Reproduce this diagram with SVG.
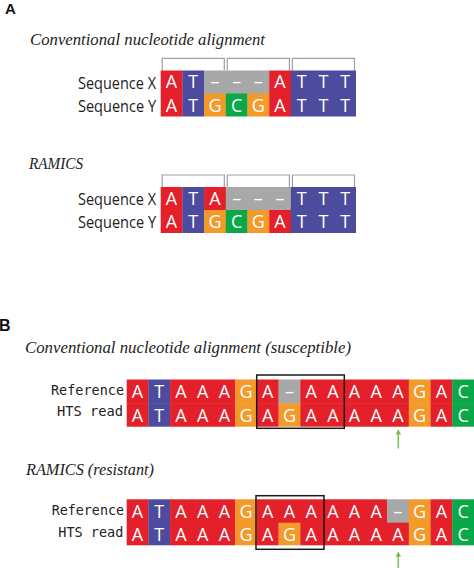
<svg xmlns="http://www.w3.org/2000/svg" width="474" height="568" viewBox="0 0 474 568">
<style>
.r{fill:#E4202A}.b{fill:#4C4B9E}.o{fill:#F39A2B}.g{fill:#0BA84A}.x{fill:#A8A8A8}
.n{font-family:"Open Sans","Liberation Sans",sans-serif;font-size:18px;fill:#fff;text-anchor:middle}
.lab{font-family:"Liberation Sans",Arial,sans-serif;font-weight:bold;fill:#111}
.ttl{font-family:"Liberation Serif","Times New Roman",serif;font-style:italic;fill:#222}
.seq{font-family:"Open Sans","Liberation Sans",sans-serif;font-size:16.5px;fill:#222;text-anchor:end}
.mono{font-family:"DejaVu Sans Mono","Liberation Mono",monospace;font-size:14px;fill:#222;text-anchor:end}
.br{fill:none;stroke:#A0A0A0;stroke-width:1.2}
.box{fill:none;stroke:#1a1a1a;stroke-width:1.5}
.arr{stroke:#7DBB5A;stroke-width:1.5;fill:none}
.ah{fill:#7DBB5A}
</style>
<g id="labels">
<text class="lab" x="5" y="14" font-size="15">A</text>
<text class="lab" x="-1" y="331" font-size="16">B</text>
<text class="ttl" x="30" y="45" font-size="16.5" textLength="235" lengthAdjust="spacingAndGlyphs">Conventional nucleotide alignment</text>
<text class="ttl" x="29" y="169" font-size="16.5" textLength="54" lengthAdjust="spacingAndGlyphs">RAMICS</text>
<text class="ttl" x="25" y="353" font-size="17" textLength="326" lengthAdjust="spacingAndGlyphs">Conventional nucleotide alignment (susceptible)</text>
<text class="ttl" x="26" y="475" font-size="17" textLength="128" lengthAdjust="spacingAndGlyphs">RAMICS (resistant)</text>
</g>

<g id="alignA1">
<path class="br" d="M162.2 70.5V58.3H224.3V70.5M227.3 70.5V58.3H289.4V70.5M292.4 70.5V58.3H354.5V70.5"/>
<text class="seq" x="156" y="89" textLength="78" lengthAdjust="spacingAndGlyphs">Sequence X</text>
<text class="seq" x="156" y="112" textLength="78" lengthAdjust="spacingAndGlyphs">Sequence Y</text>
<rect class="r" x="160.7" y="70.5" width="21.9" height="23.5"/>
<rect class="b" x="182.4" y="70.5" width="21.9" height="23.5"/>
<rect class="x" x="204.1" y="70.5" width="65.3" height="23.5"/>
<rect class="r" x="269.2" y="70.5" width="21.9" height="23.5"/>
<rect class="b" x="290.9" y="70.5" width="65.1" height="23.5"/>
<rect class="r" x="160.7" y="93.5" width="21.9" height="23"/>
<rect class="b" x="182.4" y="93.5" width="21.9" height="23"/>
<rect class="o" x="204.1" y="93.5" width="21.9" height="23"/>
<rect class="g" x="225.8" y="93.5" width="21.9" height="23"/>
<rect class="o" x="247.5" y="93.5" width="21.9" height="23"/>
<rect class="r" x="269.2" y="93.5" width="21.9" height="23"/>
<rect class="b" x="290.9" y="93.5" width="65.1" height="23"/>
<text class="n" y="88"><tspan x="171.55">A</tspan><tspan x="193.25">T</tspan><tspan x="214.95">–</tspan><tspan x="236.65">–</tspan><tspan x="258.35">–</tspan><tspan x="280.05">A</tspan><tspan x="301.75">T</tspan><tspan x="323.45">T</tspan><tspan x="345.15">T</tspan></text>
<text class="n" y="111.5"><tspan x="171.55">A</tspan><tspan x="193.25">T</tspan><tspan x="214.95">G</tspan><tspan x="236.65">C</tspan><tspan x="258.35">G</tspan><tspan x="280.05">A</tspan><tspan x="301.75">T</tspan><tspan x="323.45">T</tspan><tspan x="345.15">T</tspan></text>
</g>

<g id="alignA2">
<path class="br" d="M162.2 187V175H224.3V187M227.3 187V175H289.4V187M292.4 187V175H354.5V187"/>
<text class="seq" x="156" y="205" textLength="78" lengthAdjust="spacingAndGlyphs">Sequence X</text>
<text class="seq" x="156" y="228.3" textLength="78" lengthAdjust="spacingAndGlyphs">Sequence Y</text>
<rect class="r" x="160.7" y="187" width="21.9" height="23.5"/>
<rect class="b" x="182.4" y="187" width="21.9" height="23.5"/>
<rect class="r" x="204.1" y="187" width="21.9" height="23.5"/>
<rect class="x" x="225.8" y="187" width="65.3" height="23.5"/>
<rect class="b" x="290.9" y="187" width="65.1" height="23.5"/>
<rect class="r" x="160.7" y="210" width="21.9" height="23"/>
<rect class="b" x="182.4" y="210" width="21.9" height="23"/>
<rect class="o" x="204.1" y="210" width="21.9" height="23"/>
<rect class="g" x="225.8" y="210" width="21.9" height="23"/>
<rect class="o" x="247.5" y="210" width="21.9" height="23"/>
<rect class="r" x="269.2" y="210" width="21.9" height="23"/>
<rect class="b" x="290.9" y="210" width="65.1" height="23"/>
<text class="n" y="204.5"><tspan x="171.55">A</tspan><tspan x="193.25">T</tspan><tspan x="214.95">A</tspan><tspan x="236.65">–</tspan><tspan x="258.35">–</tspan><tspan x="280.05">–</tspan><tspan x="301.75">T</tspan><tspan x="323.45">T</tspan><tspan x="345.15">T</tspan></text>
<text class="n" y="228"><tspan x="171.55">A</tspan><tspan x="193.25">T</tspan><tspan x="214.95">G</tspan><tspan x="236.65">C</tspan><tspan x="258.35">G</tspan><tspan x="280.05">A</tspan><tspan x="301.75">T</tspan><tspan x="323.45">T</tspan><tspan x="345.15">T</tspan></text>
</g>

<g id="alignB1">
<text class="mono" x="124" y="395" textLength="73" lengthAdjust="spacingAndGlyphs">Reference</text>
<text class="mono" x="123" y="416" textLength="66" lengthAdjust="spacingAndGlyphs">HTS read</text>
<rect class="r" x="126.7" y="379.5" width="21.9" height="24.3"/>
<rect class="b" x="148.4" y="379.5" width="21.9" height="24.3"/>
<rect class="r" x="170.1" y="379.5" width="65.3" height="24.3"/>
<rect class="o" x="235.2" y="379.5" width="21.9" height="24.3"/>
<rect class="r" x="256.9" y="379.5" width="21.9" height="24.3"/>
<rect class="x" x="278.6" y="379.5" width="21.9" height="24.3"/>
<rect class="r" x="300.3" y="379.5" width="108.7" height="24.3"/>
<rect class="o" x="408.8" y="379.5" width="21.9" height="24.3"/>
<rect class="r" x="430.5" y="379.5" width="21.9" height="24.3"/>
<rect class="g" x="452.2" y="379.5" width="21.8" height="24.3"/>
<rect class="r" x="126.7" y="403.3" width="21.9" height="23.4"/>
<rect class="b" x="148.4" y="403.3" width="21.9" height="23.4"/>
<rect class="r" x="170.1" y="403.3" width="65.3" height="23.4"/>
<rect class="o" x="235.2" y="403.3" width="21.9" height="23.4"/>
<rect class="r" x="256.9" y="403.3" width="21.9" height="23.4"/>
<rect class="o" x="278.6" y="403.3" width="21.9" height="23.4"/>
<rect class="r" x="300.3" y="403.3" width="108.7" height="23.4"/>
<rect class="o" x="408.8" y="403.3" width="21.9" height="23.4"/>
<rect class="r" x="430.5" y="403.3" width="21.9" height="23.4"/>
<rect class="g" x="452.2" y="403.3" width="21.8" height="23.4"/>
<text class="n" y="398"><tspan x="137.55">A</tspan><tspan x="159.25">T</tspan><tspan x="180.95">A</tspan><tspan x="202.65">A</tspan><tspan x="224.35">A</tspan><tspan x="246.05">G</tspan><tspan x="267.75">A</tspan><tspan x="289.45">–</tspan><tspan x="311.15">A</tspan><tspan x="332.85">A</tspan><tspan x="354.55">A</tspan><tspan x="376.25">A</tspan><tspan x="397.95">A</tspan><tspan x="419.65">G</tspan><tspan x="441.35">A</tspan><tspan x="463.05">C</tspan></text>
<text class="n" y="421.8"><tspan x="137.55">A</tspan><tspan x="159.25">T</tspan><tspan x="180.95">A</tspan><tspan x="202.65">A</tspan><tspan x="224.35">A</tspan><tspan x="246.05">G</tspan><tspan x="267.75">A</tspan><tspan x="289.45">G</tspan><tspan x="311.15">A</tspan><tspan x="332.85">A</tspan><tspan x="354.55">A</tspan><tspan x="376.25">A</tspan><tspan x="397.95">A</tspan><tspan x="419.65">G</tspan><tspan x="441.35">A</tspan><tspan x="463.05">C</tspan></text>
<rect class="box" x="256.7" y="375" width="87.6" height="53.3"/>
</g>

<g id="alignB2">
<text class="mono" x="124" y="515" textLength="72.3" lengthAdjust="spacingAndGlyphs">Reference</text>
<text class="mono" x="123.3" y="537.3" textLength="65" lengthAdjust="spacingAndGlyphs">HTS read</text>
<rect class="r" x="126.7" y="499.3" width="21.9" height="23.9"/>
<rect class="b" x="148.4" y="499.3" width="21.9" height="23.9"/>
<rect class="r" x="170.1" y="499.3" width="65.3" height="23.9"/>
<rect class="o" x="235.2" y="499.3" width="21.9" height="23.9"/>
<rect class="r" x="256.9" y="499.3" width="130.4" height="23.9"/>
<rect class="x" x="387.1" y="499.3" width="21.9" height="23.9"/>
<rect class="o" x="408.8" y="499.3" width="21.9" height="23.9"/>
<rect class="r" x="430.5" y="499.3" width="21.9" height="23.9"/>
<rect class="g" x="452.2" y="499.3" width="21.8" height="23.9"/>
<rect class="r" x="126.7" y="522.7" width="21.9" height="22.6"/>
<rect class="b" x="148.4" y="522.7" width="21.9" height="22.6"/>
<rect class="r" x="170.1" y="522.7" width="65.3" height="22.6"/>
<rect class="o" x="235.2" y="522.7" width="21.9" height="22.6"/>
<rect class="r" x="256.9" y="522.7" width="21.9" height="22.6"/>
<rect class="o" x="278.6" y="522.7" width="21.9" height="22.6"/>
<rect class="r" x="300.3" y="522.7" width="108.7" height="22.6"/>
<rect class="o" x="408.8" y="522.7" width="21.9" height="22.6"/>
<rect class="r" x="430.5" y="522.7" width="21.9" height="22.6"/>
<rect class="g" x="452.2" y="522.7" width="21.8" height="22.6"/>
<text class="n" y="517.8"><tspan x="137.55">A</tspan><tspan x="159.25">T</tspan><tspan x="180.95">A</tspan><tspan x="202.65">A</tspan><tspan x="224.35">A</tspan><tspan x="246.05">G</tspan><tspan x="267.75">A</tspan><tspan x="289.45">A</tspan><tspan x="311.15">A</tspan><tspan x="332.85">A</tspan><tspan x="354.55">A</tspan><tspan x="376.25">A</tspan><tspan x="397.95">–</tspan><tspan x="419.65">G</tspan><tspan x="441.35">A</tspan><tspan x="463.05">C</tspan></text>
<text class="n" y="541"><tspan x="137.55">A</tspan><tspan x="159.25">T</tspan><tspan x="180.95">A</tspan><tspan x="202.65">A</tspan><tspan x="224.35">A</tspan><tspan x="246.05">G</tspan><tspan x="267.75">A</tspan><tspan x="289.45">G</tspan><tspan x="311.15">A</tspan><tspan x="332.85">A</tspan><tspan x="354.55">A</tspan><tspan x="376.25">A</tspan><tspan x="397.95">A</tspan><tspan x="419.65">G</tspan><tspan x="441.35">A</tspan><tspan x="463.05">C</tspan></text>
<rect class="box" x="256" y="495.7" width="68" height="53.6"/>
</g>

<g id="connectors">
<line class="arr" x1="398.3" y1="448.5" x2="398.3" y2="433"/>
<polygon class="ah" points="398.3,429.3 395.6,434.5 401,434.5"/>
<line class="arr" x1="398.3" y1="568" x2="398.3" y2="555"/>
<polygon class="ah" points="398.3,551.5 395.6,556.7 401,556.7"/>
</g>
</svg>
